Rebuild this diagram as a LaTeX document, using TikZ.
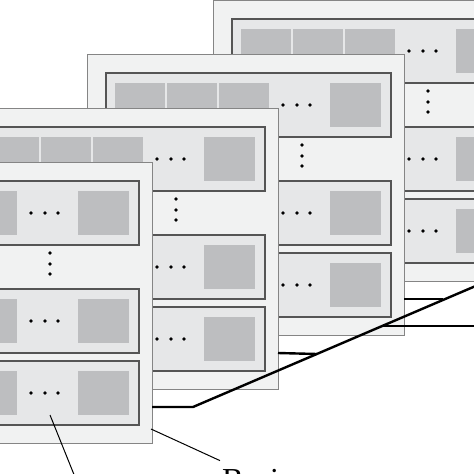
\documentclass[tikz,border=0pt]{standalone}
\usepackage{fontspec}
\setmainfont{Liberation Serif}
\definecolor{pagefill}{HTML}{F1F2F2}
\definecolor{pageline}{HTML}{858585}
\definecolor{rowfill}{HTML}{E6E7E8}
\definecolor{rowline}{HTML}{555555}
\definecolor{cellfill}{HTML}{BDBEC0}
\begin{document}
\begin{tikzpicture}[x=1pt,y=-1pt,
    page/.style={fill=pagefill,draw=pageline,line width=0.9pt},
    datarow/.style={fill=rowfill,draw=rowline,line width=1.1pt},
    cell/.style={fill=cellfill},
    spine/.style={line width=2.4pt,black},
    callout/.style={line width=1pt,black}]
	\useasboundingbox (0,0) rectangle (474,474);
	\clip (0,0) rectangle (474,474);
	
	% pages, back to front
	\foreach \k in {3,2,1,0}{
		\pgfmathsetmacro\R{152+126*\k}
		\pgfmathsetmacro\T{162-54*\k}
		\draw[page] (\R-317,\T) rectangle (\R,\T+281);
		\foreach \ry in {19,127,199}{
			\draw[datarow] (\R-298,\T+\ry) rectangle (\R-13,\T+\ry+64);
			\foreach \sx in {289,237,185}
				\fill[cell] (\R-\sx,\T+\ry+10) rectangle (\R-\sx+50,\T+\ry+54);
			\fill[cell] (\R-74,\T+\ry+10) rectangle (\R-23,\T+\ry+54);
			\foreach \dx in {121,107,94}
				\fill (\R-\dx,\T+\ry+32) circle (1.8);
		}
		\foreach \dy in {91,102,112}
			\fill (\R-102,\T+\dy) circle (1.8);
		\coordinate (p\k) at (\R,\T+245);
	}
	
	% spine
	\coordinate (bend) at (193,407);
	\coordinate (far) at (520,267);
	\coordinate (m1) at (317,354);
	\coordinate (m2) at (443,299);
	\coordinate (m3) at (382,326);
	\coordinate (m3end) at (480,326);
	\draw[spine] (p0) -- (bend) -- (far);
	\draw[spine] (p1) -- (m1);
	\draw[spine] (p2) -- (m2);
	\draw[spine] (m3) -- (m3end);
	
	% labels
	\node[inner sep=0pt,anchor=base west,font=\fontsize{32}{36}\selectfont] (basis) at (222,490) {Basis};
	\coordinate (a1) at (151,429);
	\draw[callout] (a1) -- ([shift={(-2,-8)}]basis.north west);
	\coordinate (a2) at (50,415);
	\coordinate (a2end) at (77,482);
	\draw[callout] (a2) -- (a2end);
\end{tikzpicture}
\end{document}
